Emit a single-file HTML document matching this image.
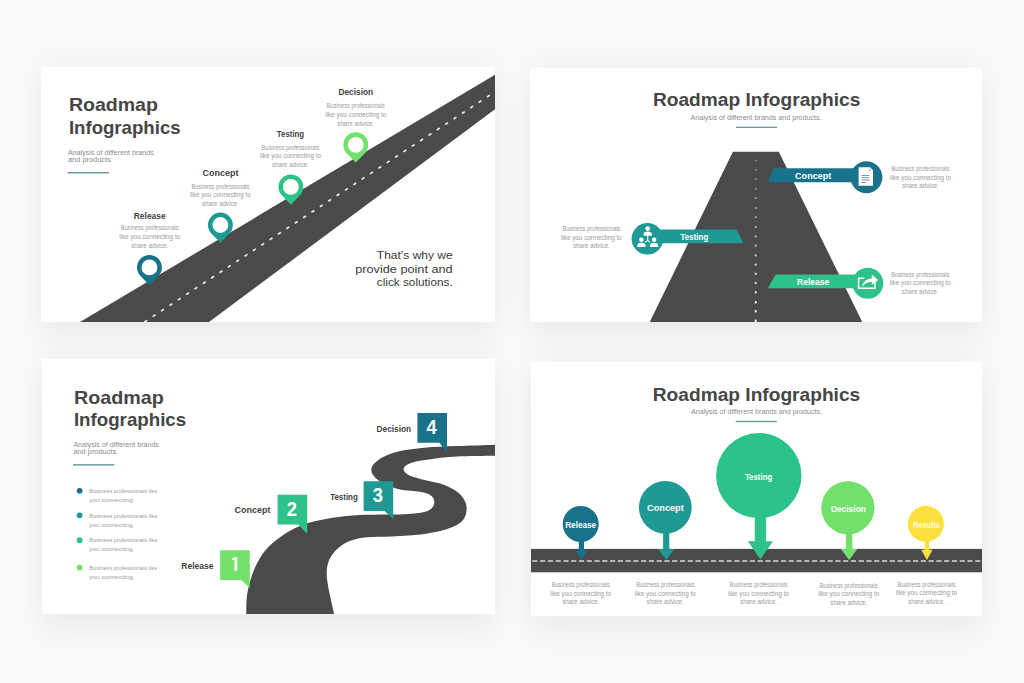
<!DOCTYPE html><html><head><meta charset="utf-8"><style>html,body{margin:0;padding:0;background:#f9f9f9;width:1024px;height:683px;overflow:hidden}svg{display:block}text{font-family:"Liberation Sans",sans-serif}</style></head><body>
<svg width="1024" height="683" viewBox="0 0 1024 683">
<defs><filter id="sh" x="-30%" y="-40%" width="160%" height="180%"><feGaussianBlur stdDeviation="14 20"/></filter><clipPath id="c1"><rect x="41" y="67" width="454" height="255"/></clipPath><clipPath id="c2"><rect x="530" y="67.5" width="452" height="254.5"/></clipPath><clipPath id="c3"><rect x="42" y="359" width="453" height="255"/></clipPath><clipPath id="c4"><rect x="531" y="361.7" width="451" height="254.6"/></clipPath></defs>
<rect width="1024" height="683" fill="#f9f9f9"/>
<rect x="41" y="75" width="454" height="255" fill="#000" opacity="0.075" filter="url(#sh)"/>
<rect x="530" y="75.5" width="452" height="254.5" fill="#000" opacity="0.075" filter="url(#sh)"/>
<rect x="42" y="367" width="453" height="255" fill="#000" opacity="0.075" filter="url(#sh)"/>
<rect x="531" y="369.7" width="451" height="254.6" fill="#000" opacity="0.075" filter="url(#sh)"/>
<rect x="41" y="67" width="454" height="255" fill="#fff"/>
<rect x="530" y="67.5" width="452" height="254.5" fill="#fff"/>
<rect x="42" y="359" width="453" height="255" fill="#fff"/>
<rect x="531" y="361.7" width="451" height="254.6" fill="#fff"/>
<g clip-path="url(#c1)">
<text x="68.9" y="111.3" font-size="19" font-weight="bold" fill="#464646" text-anchor="start" textLength="89" lengthAdjust="spacingAndGlyphs">Roadmap</text>
<text x="68.9" y="133.8" font-size="19" font-weight="bold" fill="#464646" text-anchor="start" textLength="111.7" lengthAdjust="spacingAndGlyphs">Infographics</text>
<text x="68" y="154.5" font-size="6.6" font-weight="normal" fill="#8c8c8c" text-anchor="start" textLength="85.8" lengthAdjust="spacingAndGlyphs">Analysis of different brands</text>
<text x="68" y="162.3" font-size="6.6" font-weight="normal" fill="#8c8c8c" text-anchor="start" textLength="44.8" lengthAdjust="spacingAndGlyphs">and products.</text>
<rect x="67.5" y="172" width="41.5" height="1.5" fill="#6b9ba3"/>
<polygon points="80,322 209,322 495.5,109 495.5,74.5" fill="#4a4a4a"/>
<rect x="144.05" y="320.33" width="3.4" height="1.7" fill="#ececec" transform="rotate(-33.30 145.75 321.18)"/>
<rect x="152.41" y="314.84" width="3.4" height="1.7" fill="#ececec" transform="rotate(-33.30 154.11 315.69)"/>
<rect x="160.77" y="309.35" width="3.4" height="1.7" fill="#ececec" transform="rotate(-33.30 162.47 310.20)"/>
<rect x="169.13" y="303.86" width="3.4" height="1.7" fill="#ececec" transform="rotate(-33.30 170.83 304.71)"/>
<rect x="177.49" y="298.36" width="3.4" height="1.7" fill="#ececec" transform="rotate(-33.30 179.19 299.21)"/>
<rect x="185.84" y="292.87" width="3.4" height="1.7" fill="#ececec" transform="rotate(-33.30 187.54 293.72)"/>
<rect x="194.20" y="287.38" width="3.4" height="1.7" fill="#ececec" transform="rotate(-33.30 195.90 288.23)"/>
<rect x="202.56" y="281.89" width="3.4" height="1.7" fill="#ececec" transform="rotate(-33.30 204.26 282.74)"/>
<rect x="210.92" y="276.40" width="3.4" height="1.7" fill="#ececec" transform="rotate(-33.30 212.62 277.25)"/>
<rect x="219.27" y="270.91" width="3.4" height="1.7" fill="#ececec" transform="rotate(-33.30 220.97 271.76)"/>
<rect x="227.63" y="265.42" width="3.4" height="1.7" fill="#ececec" transform="rotate(-33.30 229.33 266.27)"/>
<rect x="235.99" y="259.93" width="3.4" height="1.7" fill="#ececec" transform="rotate(-33.30 237.69 260.78)"/>
<rect x="244.35" y="254.44" width="3.4" height="1.7" fill="#ececec" transform="rotate(-33.30 246.05 255.29)"/>
<rect x="252.71" y="248.95" width="3.4" height="1.7" fill="#ececec" transform="rotate(-33.30 254.41 249.80)"/>
<rect x="261.06" y="243.46" width="3.4" height="1.7" fill="#ececec" transform="rotate(-33.30 262.76 244.31)"/>
<rect x="269.42" y="237.97" width="3.4" height="1.7" fill="#ececec" transform="rotate(-33.30 271.12 238.82)"/>
<rect x="277.78" y="232.48" width="3.4" height="1.7" fill="#ececec" transform="rotate(-33.30 279.48 233.33)"/>
<rect x="286.14" y="226.99" width="3.4" height="1.7" fill="#ececec" transform="rotate(-33.30 287.84 227.84)"/>
<rect x="294.50" y="221.50" width="3.4" height="1.7" fill="#ececec" transform="rotate(-33.30 296.20 222.35)"/>
<rect x="302.85" y="216.01" width="3.4" height="1.7" fill="#ececec" transform="rotate(-33.30 304.55 216.86)"/>
<rect x="311.21" y="210.52" width="3.4" height="1.7" fill="#ececec" transform="rotate(-33.30 312.91 211.37)"/>
<rect x="319.57" y="205.03" width="3.4" height="1.7" fill="#ececec" transform="rotate(-33.30 321.27 205.88)"/>
<rect x="327.93" y="199.54" width="3.4" height="1.7" fill="#ececec" transform="rotate(-33.30 329.63 200.39)"/>
<rect x="336.29" y="194.05" width="3.4" height="1.7" fill="#ececec" transform="rotate(-33.30 337.99 194.90)"/>
<rect x="344.64" y="188.56" width="3.4" height="1.7" fill="#ececec" transform="rotate(-33.30 346.34 189.41)"/>
<rect x="353.00" y="183.06" width="3.4" height="1.7" fill="#ececec" transform="rotate(-33.30 354.70 183.91)"/>
<rect x="361.36" y="177.57" width="3.4" height="1.7" fill="#ececec" transform="rotate(-33.30 363.06 178.42)"/>
<rect x="369.72" y="172.08" width="3.4" height="1.7" fill="#ececec" transform="rotate(-33.30 371.42 172.93)"/>
<rect x="378.08" y="166.59" width="3.4" height="1.7" fill="#ececec" transform="rotate(-33.30 379.78 167.44)"/>
<rect x="386.43" y="161.10" width="3.4" height="1.7" fill="#ececec" transform="rotate(-33.30 388.13 161.95)"/>
<rect x="394.79" y="155.61" width="3.4" height="1.7" fill="#ececec" transform="rotate(-33.30 396.49 156.46)"/>
<rect x="403.15" y="150.12" width="3.4" height="1.7" fill="#ececec" transform="rotate(-33.30 404.85 150.97)"/>
<rect x="411.51" y="144.63" width="3.4" height="1.7" fill="#ececec" transform="rotate(-33.30 413.21 145.48)"/>
<rect x="419.86" y="139.14" width="3.4" height="1.7" fill="#ececec" transform="rotate(-33.30 421.56 139.99)"/>
<rect x="428.22" y="133.65" width="3.4" height="1.7" fill="#ececec" transform="rotate(-33.30 429.92 134.50)"/>
<rect x="436.58" y="128.16" width="3.4" height="1.7" fill="#ececec" transform="rotate(-33.30 438.28 129.01)"/>
<rect x="444.94" y="122.67" width="3.4" height="1.7" fill="#ececec" transform="rotate(-33.30 446.64 123.52)"/>
<rect x="453.30" y="117.18" width="3.4" height="1.7" fill="#ececec" transform="rotate(-33.30 455.00 118.03)"/>
<rect x="461.65" y="111.69" width="3.4" height="1.7" fill="#ececec" transform="rotate(-33.30 463.35 112.54)"/>
<rect x="470.01" y="106.20" width="3.4" height="1.7" fill="#ececec" transform="rotate(-33.30 471.71 107.05)"/>
<rect x="478.37" y="100.71" width="3.4" height="1.7" fill="#ececec" transform="rotate(-33.30 480.07 101.56)"/>
<rect x="486.73" y="95.22" width="3.4" height="1.7" fill="#ececec" transform="rotate(-33.30 488.43 96.07)"/>
</g>
<path d="M149.45,285.2 L140.55,276.11 A12.45,12.45 0 1 1 158.35,276.11 Z" fill="#18738a"/>
<circle cx="149.45" cy="267.4" r="7.9" fill="#fff"/>
<text x="149.7" y="218.5" font-size="8.8" font-weight="bold" fill="#3f3f3f" text-anchor="middle" textLength="31.8" lengthAdjust="spacingAndGlyphs">Release</text>
<text x="149.7" y="230.3" font-size="6.4" font-weight="normal" fill="#9b9b9b" text-anchor="middle" textLength="58" lengthAdjust="spacingAndGlyphs">Business professionals</text>
<text x="149.7" y="238.9" font-size="6.4" font-weight="normal" fill="#9b9b9b" text-anchor="middle" textLength="61" lengthAdjust="spacingAndGlyphs">like you connecting to</text>
<text x="149.7" y="247.5" font-size="6.4" font-weight="normal" fill="#9b9b9b" text-anchor="middle" textLength="37" lengthAdjust="spacingAndGlyphs">share advice.</text>
<path d="M220.4,242.8 L211.50,233.71 A12.45,12.45 0 1 1 229.30,233.71 Z" fill="#1e9994"/>
<circle cx="220.4" cy="225.0" r="7.9" fill="#fff"/>
<text x="220.4" y="176.0" font-size="8.8" font-weight="bold" fill="#3f3f3f" text-anchor="middle" textLength="36" lengthAdjust="spacingAndGlyphs">Concept</text>
<text x="220.4" y="188.7" font-size="6.4" font-weight="normal" fill="#9b9b9b" text-anchor="middle" textLength="58" lengthAdjust="spacingAndGlyphs">Business professionals</text>
<text x="220.4" y="197.3" font-size="6.4" font-weight="normal" fill="#9b9b9b" text-anchor="middle" textLength="61" lengthAdjust="spacingAndGlyphs">like you connecting to</text>
<text x="220.4" y="205.9" font-size="6.4" font-weight="normal" fill="#9b9b9b" text-anchor="middle" textLength="37" lengthAdjust="spacingAndGlyphs">share advice.</text>
<path d="M290.85,204.70000000000002 L281.95,195.61 A12.45,12.45 0 1 1 299.75,195.61 Z" fill="#2cc289"/>
<circle cx="290.85" cy="186.9" r="7.9" fill="#fff"/>
<text x="290.5" y="137.4" font-size="8.8" font-weight="bold" fill="#3f3f3f" text-anchor="middle" textLength="27.3" lengthAdjust="spacingAndGlyphs">Testing</text>
<text x="290.5" y="149.7" font-size="6.4" font-weight="normal" fill="#9b9b9b" text-anchor="middle" textLength="58" lengthAdjust="spacingAndGlyphs">Business professionals</text>
<text x="290.5" y="158.3" font-size="6.4" font-weight="normal" fill="#9b9b9b" text-anchor="middle" textLength="61" lengthAdjust="spacingAndGlyphs">like you connecting to</text>
<text x="290.5" y="166.9" font-size="6.4" font-weight="normal" fill="#9b9b9b" text-anchor="middle" textLength="37" lengthAdjust="spacingAndGlyphs">share advice.</text>
<path d="M355.8,162.60000000000002 L346.90,153.51 A12.45,12.45 0 1 1 364.70,153.51 Z" fill="#74e06c"/>
<circle cx="355.8" cy="144.8" r="7.9" fill="#fff"/>
<text x="355.8" y="95.0" font-size="8.8" font-weight="bold" fill="#3f3f3f" text-anchor="middle" textLength="34.7" lengthAdjust="spacingAndGlyphs">Decision</text>
<text x="355.8" y="108.3" font-size="6.4" font-weight="normal" fill="#9b9b9b" text-anchor="middle" textLength="58" lengthAdjust="spacingAndGlyphs">Business professionals</text>
<text x="355.8" y="116.9" font-size="6.4" font-weight="normal" fill="#9b9b9b" text-anchor="middle" textLength="61" lengthAdjust="spacingAndGlyphs">like you connecting to</text>
<text x="355.8" y="125.5" font-size="6.4" font-weight="normal" fill="#9b9b9b" text-anchor="middle" textLength="37" lengthAdjust="spacingAndGlyphs">share advice.</text>
<text x="452.7" y="259.3" font-size="11.5" font-weight="normal" fill="#3a3a3a" text-anchor="end" textLength="75.9" lengthAdjust="spacingAndGlyphs">That&#8217;s why we</text>
<text x="452.7" y="272.8" font-size="11.5" font-weight="normal" fill="#3a3a3a" text-anchor="end" textLength="97.5" lengthAdjust="spacingAndGlyphs">provide point and</text>
<text x="452.7" y="286.0" font-size="11.5" font-weight="normal" fill="#3a3a3a" text-anchor="end" textLength="75.9" lengthAdjust="spacingAndGlyphs">click solutions.</text>
<g clip-path="url(#c2)">
<text x="652.9" y="106.2" font-size="18" font-weight="bold" fill="#464646" text-anchor="start" textLength="207.4" lengthAdjust="spacingAndGlyphs">Roadmap Infographics</text>
<text x="756" y="119.6" font-size="6.4" font-weight="normal" fill="#8c8c8c" text-anchor="middle" textLength="131" lengthAdjust="spacingAndGlyphs">Analysis of different brands and products.</text>
<rect x="736" y="126.6" width="41" height="1.4" fill="#6b9ba3"/>
<polygon points="732.9,151.7 778.8,151.7 862.5,322.5 649.5,322.5" fill="#4a4a4a"/>
<rect x="754.80" y="159.90" width="1.8" height="1.20" fill="#fff" opacity="0.45"/>
<rect x="754.80" y="169.16" width="1.8" height="1.27" fill="#fff" opacity="0.48"/>
<rect x="754.80" y="178.33" width="1.8" height="1.34" fill="#fff" opacity="0.51"/>
<rect x="754.80" y="188.29" width="1.8" height="1.41" fill="#fff" opacity="0.55"/>
<rect x="754.80" y="197.46" width="1.8" height="1.48" fill="#fff" opacity="0.58"/>
<rect x="754.80" y="207.22" width="1.8" height="1.55" fill="#fff" opacity="0.61"/>
<rect x="754.80" y="216.39" width="1.8" height="1.62" fill="#fff" opacity="0.64"/>
<rect x="754.80" y="226.15" width="1.8" height="1.69" fill="#fff" opacity="0.68"/>
<rect x="754.80" y="235.52" width="1.8" height="1.76" fill="#fff" opacity="0.71"/>
<rect x="754.80" y="244.78" width="1.8" height="1.84" fill="#fff" opacity="0.74"/>
<rect x="754.80" y="254.45" width="1.8" height="1.91" fill="#fff" opacity="0.77"/>
<rect x="754.80" y="263.61" width="1.8" height="1.98" fill="#fff" opacity="0.81"/>
<rect x="754.80" y="272.78" width="1.8" height="2.05" fill="#fff" opacity="0.84"/>
<rect x="754.80" y="281.94" width="1.8" height="2.12" fill="#fff" opacity="0.87"/>
<rect x="754.80" y="291.21" width="1.8" height="2.19" fill="#fff" opacity="0.90"/>
<rect x="754.80" y="301.17" width="1.8" height="2.26" fill="#fff" opacity="0.94"/>
<rect x="754.80" y="310.14" width="1.8" height="2.33" fill="#fff" opacity="0.97"/>
<rect x="754.80" y="319.60" width="1.8" height="2.40" fill="#fff" opacity="1.00"/>
</g>
<polygon points="773.7,168.2 866,168.2 866,182.2 767.8,182.2" fill="#18738a"/>
<circle cx="866.4" cy="177.3" r="16" fill="#18738a"/>
<text x="813.2" y="178.9" font-size="9.4" font-weight="bold" fill="#fff" text-anchor="middle" textLength="36.3" lengthAdjust="spacingAndGlyphs">Concept</text>
<polygon points="648,229.5 736.5,229.5 743.4,243.2 648,243.2" fill="#1e9994"/>
<circle cx="647.4" cy="238.8" r="15.8" fill="#1e9994"/>
<text x="694.4" y="240.3" font-size="9.4" font-weight="bold" fill="#fff" text-anchor="middle" textLength="27.7" lengthAdjust="spacingAndGlyphs">Testing</text>
<polygon points="775.6,274.6 867,274.6 867,288.3 767.8,288.3" fill="#2cc289"/>
<circle cx="867.8" cy="283.2" r="15.5" fill="#2cc289"/>
<text x="813.2" y="284.7" font-size="9.4" font-weight="bold" fill="#fff" text-anchor="middle" textLength="32.3" lengthAdjust="spacingAndGlyphs">Release</text>
<text x="920.5" y="171.2" font-size="6.4" font-weight="normal" fill="#9b9b9b" text-anchor="middle" textLength="58" lengthAdjust="spacingAndGlyphs">Business professionals</text>
<text x="920.5" y="179.5" font-size="6.4" font-weight="normal" fill="#9b9b9b" text-anchor="middle" textLength="61" lengthAdjust="spacingAndGlyphs">like you connecting to</text>
<text x="920.5" y="187.8" font-size="6.4" font-weight="normal" fill="#9b9b9b" text-anchor="middle" textLength="37" lengthAdjust="spacingAndGlyphs">share advice.</text>
<text x="591.4" y="231.2" font-size="6.4" font-weight="normal" fill="#9b9b9b" text-anchor="middle" textLength="58" lengthAdjust="spacingAndGlyphs">Business professionals</text>
<text x="591.4" y="239.7" font-size="6.4" font-weight="normal" fill="#9b9b9b" text-anchor="middle" textLength="61" lengthAdjust="spacingAndGlyphs">like you connecting to</text>
<text x="591.4" y="248.2" font-size="6.4" font-weight="normal" fill="#9b9b9b" text-anchor="middle" textLength="37" lengthAdjust="spacingAndGlyphs">share advice.</text>
<text x="920.3" y="276.8" font-size="6.4" font-weight="normal" fill="#9b9b9b" text-anchor="middle" textLength="58" lengthAdjust="spacingAndGlyphs">Business professionals</text>
<text x="920.3" y="285.3" font-size="6.4" font-weight="normal" fill="#9b9b9b" text-anchor="middle" textLength="61" lengthAdjust="spacingAndGlyphs">like you connecting to</text>
<text x="920.3" y="293.8" font-size="6.4" font-weight="normal" fill="#9b9b9b" text-anchor="middle" textLength="37" lengthAdjust="spacingAndGlyphs">share advice.</text>
<path d="M858.6,167.3 H870 L873,170.3 V185.8 H858.6 Z" fill="#fff"/>
<circle cx="869.8" cy="170.2" r="0.7" fill="#5a7f8a"/>
<rect x="861.6" y="175.0" width="7.8" height="0.9" fill="#6d8f99"/>
<rect x="861.6" y="177.3" width="7.8" height="0.9" fill="#6d8f99"/>
<rect x="861.6" y="179.5" width="7.8" height="0.9" fill="#6d8f99"/>
<rect x="861.6" y="182.0" width="4.5" height="0.9" fill="#6d8f99"/>
<g fill="#fff"><circle cx="647.7" cy="228.6" r="2.35"/><path d="M643.5,235.8 v-1.3 a4.2,3 0 0 1 8.4,0 v1.3 z"/><circle cx="641.4" cy="239.8" r="2.3"/><path d="M637.3,247 v-1.3 a4.1,3 0 0 1 8.2,0 v1.3 z"/><circle cx="654.1" cy="239.8" r="2.3"/><path d="M650,247 v-1.3 a4.1,3 0 0 1 8.2,0 v1.3 z"/></g>
<path d="M647.7,235.5 V240.3 L645.2,242.4 M647.7,240.3 L650.2,242.4" stroke="#fff" stroke-width="1.1" fill="none"/>
<path d="M875,282.3 V288.2 H858.6 V278.3 H864.2" stroke="#fff" stroke-width="1.5" fill="none"/>
<path d="M861.8,287 C862.8,281.6 866.5,278.9 871.8,278.4 V274.8 L878.2,279.9 L871.8,285 V281.7 C867.5,281.9 864.5,283.5 861.8,287 Z" fill="#fff"/>
<g clip-path="url(#c3)">
<text x="73.9" y="403.7" font-size="19" font-weight="bold" fill="#464646" text-anchor="start" textLength="89.9" lengthAdjust="spacingAndGlyphs">Roadmap</text>
<text x="73.9" y="426.2" font-size="19" font-weight="bold" fill="#464646" text-anchor="start" textLength="112.3" lengthAdjust="spacingAndGlyphs">Infographics</text>
<text x="73.4" y="446.6" font-size="6.6" font-weight="normal" fill="#8c8c8c" text-anchor="start" textLength="85.5" lengthAdjust="spacingAndGlyphs">Analysis of different brands</text>
<text x="73.4" y="454.4" font-size="6.6" font-weight="normal" fill="#8c8c8c" text-anchor="start" textLength="44.8" lengthAdjust="spacingAndGlyphs">and products.</text>
<rect x="73" y="464.1" width="41.4" height="1.5" fill="#6b9ba3"/>
<circle cx="79.6" cy="490.8" r="2.9" fill="#18738a"/>
<text x="89.3" y="493.0" font-size="6.2" font-weight="normal" fill="#9b9b9b" text-anchor="start" textLength="68" lengthAdjust="spacingAndGlyphs">Business professionals like</text>
<text x="89.3" y="502.0" font-size="6.2" font-weight="normal" fill="#9b9b9b" text-anchor="start" textLength="45" lengthAdjust="spacingAndGlyphs">you connecting.</text>
<circle cx="79.6" cy="515.3" r="2.9" fill="#1e9994"/>
<text x="89.3" y="517.5" font-size="6.2" font-weight="normal" fill="#9b9b9b" text-anchor="start" textLength="68" lengthAdjust="spacingAndGlyphs">Business professionals like</text>
<text x="89.3" y="526.5" font-size="6.2" font-weight="normal" fill="#9b9b9b" text-anchor="start" textLength="45" lengthAdjust="spacingAndGlyphs">you connecting.</text>
<circle cx="79.6" cy="540.2" r="2.9" fill="#2cc289"/>
<text x="89.3" y="542.4" font-size="6.2" font-weight="normal" fill="#9b9b9b" text-anchor="start" textLength="68" lengthAdjust="spacingAndGlyphs">Business professionals like</text>
<text x="89.3" y="551.4" font-size="6.2" font-weight="normal" fill="#9b9b9b" text-anchor="start" textLength="45" lengthAdjust="spacingAndGlyphs">you connecting.</text>
<circle cx="79.6" cy="567.6" r="2.9" fill="#74e06c"/>
<text x="89.3" y="569.8" font-size="6.2" font-weight="normal" fill="#9b9b9b" text-anchor="start" textLength="68" lengthAdjust="spacingAndGlyphs">Business professionals like</text>
<text x="89.3" y="578.8" font-size="6.2" font-weight="normal" fill="#9b9b9b" text-anchor="start" textLength="45" lengthAdjust="spacingAndGlyphs">you connecting.</text>
<path d="M246.20,616.00 C246.28,613.07 246.18,603.68 246.70,598.40 C247.22,593.12 247.98,589.28 249.30,584.30 C250.62,579.32 252.25,573.77 254.60,568.50 C256.95,563.23 259.88,557.38 263.40,552.70 C266.92,548.02 271.02,544.20 275.70,540.40 C280.38,536.60 285.95,532.83 291.50,529.90 C297.05,526.97 302.85,524.72 309.00,522.80 C315.15,520.88 321.07,519.60 328.40,518.40 C335.73,517.20 344.40,516.23 353.00,515.60 C361.60,514.97 371.33,514.83 380.00,514.60 C388.67,514.37 398.00,514.53 405.00,514.20 C412.00,513.87 417.58,513.55 422.00,512.60 C426.42,511.65 429.45,510.35 431.50,508.50 C433.55,506.65 434.47,503.72 434.30,501.50 C434.13,499.28 432.88,496.82 430.50,495.20 C428.12,493.58 425.08,492.75 420.00,491.80 C414.92,490.85 405.67,490.72 400.00,489.50 C394.33,488.28 390.08,486.42 386.00,484.50 C381.92,482.58 377.95,480.37 375.50,478.00 C373.05,475.63 371.47,472.75 371.30,470.30 C371.13,467.85 372.35,465.62 374.50,463.30 C376.65,460.98 379.90,458.45 384.20,456.40 C388.50,454.35 393.60,452.45 400.30,451.00 C407.00,449.55 415.00,448.52 424.40,447.70 C433.80,446.88 444.60,446.62 456.70,446.10 C468.80,445.58 490.28,444.85 497.00,444.60 L497,455.8 L497.00,455.80 C490.28,455.93 467.45,456.07 456.70,456.60 C445.95,457.13 439.75,458.07 432.50,459.00 C425.25,459.93 417.78,461.00 413.20,462.20 C408.62,463.40 406.53,464.77 405.00,466.20 C403.47,467.63 403.17,469.20 404.00,470.80 C404.83,472.40 406.60,474.27 410.00,475.80 C413.40,477.33 418.77,478.50 424.40,480.00 C430.03,481.50 438.15,482.67 443.80,484.80 C449.45,486.93 454.68,489.85 458.30,492.80 C461.92,495.75 464.17,499.27 465.50,502.50 C466.83,505.73 466.97,508.98 466.30,512.20 C465.63,515.42 464.72,518.98 461.50,521.80 C458.28,524.62 453.18,527.08 447.00,529.10 C440.82,531.12 433.57,532.68 424.40,533.90 C415.23,535.12 401.57,535.85 392.00,536.40 C382.43,536.95 373.80,536.50 367.00,537.20 C360.20,537.90 355.88,538.90 351.20,540.60 C346.52,542.30 342.42,544.50 338.90,547.40 C335.38,550.30 332.12,554.18 330.10,558.00 C328.08,561.82 327.18,565.92 326.80,570.30 C326.42,574.68 327.10,579.33 327.80,584.30 C328.50,589.27 329.88,594.82 331.00,600.10 C332.12,605.38 333.92,613.35 334.50,616.00 Z" fill="#4a4a4a"/>
</g>
<path d="M220.2,550.2 H249.79999999999998 V588.1000000000001 L240.99999999999997,579.9000000000001 H220.2 Z" fill="#74e06c"/>
<path d="M234.40,557.20 H237.30 V570.80 H234.40 V560.00 H231.80 L232.60,557.80 Z" fill="#f2fff0"/>
<path d="M277.6,494.8 H307.20000000000005 V534.1 L298.40000000000003,524.5 H277.6 Z" fill="#2cc289"/>
<text x="291.9" y="516.0" font-size="20" font-weight="bold" fill="#fff" text-anchor="middle" textLength="10.2" lengthAdjust="spacingAndGlyphs">2</text>
<path d="M363.6,481.2 H393.20000000000005 V519.1 L384.40000000000003,510.9 H363.6 Z" fill="#1e9994"/>
<text x="377.9" y="502.4" font-size="20" font-weight="bold" fill="#fff" text-anchor="middle" textLength="10.2" lengthAdjust="spacingAndGlyphs">3</text>
<path d="M417.4,413.1 H447.0 V452.8 L439.5,442.8 H417.4 Z" fill="#18738a"/>
<text x="431.7" y="434.3" font-size="20" font-weight="bold" fill="#fff" text-anchor="middle" textLength="10.2" lengthAdjust="spacingAndGlyphs">4</text>
<text x="197.4" y="569" font-size="8.9" font-weight="bold" fill="#3f3f3f" text-anchor="middle" textLength="32.2" lengthAdjust="spacingAndGlyphs">Release</text>
<text x="252.5" y="512.6" font-size="8.9" font-weight="bold" fill="#3f3f3f" text-anchor="middle" textLength="36" lengthAdjust="spacingAndGlyphs">Concept</text>
<text x="344" y="499.7" font-size="8.9" font-weight="bold" fill="#3f3f3f" text-anchor="middle" textLength="27.7" lengthAdjust="spacingAndGlyphs">Testing</text>
<text x="393.8" y="432.4" font-size="8.9" font-weight="bold" fill="#3f3f3f" text-anchor="middle" textLength="34.5" lengthAdjust="spacingAndGlyphs">Decision</text>
<g clip-path="url(#c4)">
<text x="652.8" y="400.8" font-size="18" font-weight="bold" fill="#464646" text-anchor="start" textLength="207.4" lengthAdjust="spacingAndGlyphs">Roadmap Infographics</text>
<text x="756.5" y="414.2" font-size="6.4" font-weight="normal" fill="#8c8c8c" text-anchor="middle" textLength="131" lengthAdjust="spacingAndGlyphs">Analysis of different brands and products.</text>
<rect x="735.7" y="420.8" width="41" height="1.4" fill="#6b9ba3"/>
<rect x="531" y="548.9" width="451.4" height="23.4" fill="#4a4a4a"/>
<line x1="524.53" y1="561" x2="982.4" y2="561" stroke="#d8d8d8" stroke-width="1.3" stroke-dasharray="5.2 2.57"/>
</g>
<rect x="578.80" y="524.00" width="5.2" height="27.50" fill="#18738a"/>
<polygon points="575.65,551 587.15,551 581.4,559.6" fill="#18738a"/>
<circle cx="580.7" cy="524" r="18" fill="#18738a"/>
<rect x="663.10" y="507.30" width="6.2" height="42.40" fill="#1e9994"/>
<polygon points="658.20,549.2 674.20,549.2 666.2,559.8" fill="#1e9994"/>
<circle cx="665.3" cy="507.3" r="26.4" fill="#1e9994"/>
<rect x="754.75" y="475.60" width="11.3" height="66.10" fill="#2cc289"/>
<polygon points="747.80,541.2 773.00,541.2 760.4,559.3" fill="#2cc289"/>
<circle cx="758.8" cy="475.6" r="42.7" fill="#2cc289"/>
<rect x="845.90" y="507.80" width="6.4" height="41.80" fill="#74e06c"/>
<polygon points="840.85,549.1 857.35,549.1 849.1,559.9" fill="#74e06c"/>
<circle cx="847.9" cy="507.8" r="26.6" fill="#74e06c"/>
<rect x="924.65" y="523.80" width="4.5" height="26.50" fill="#fce03e"/>
<polygon points="921.20,549.8 932.60,549.8 926.9,559.9" fill="#fce03e"/>
<circle cx="925.8" cy="523.8" r="18" fill="#fce03e"/>
<text x="580.7" y="527.8" font-size="8.4" font-weight="bold" fill="#fff" text-anchor="middle" textLength="31" lengthAdjust="spacingAndGlyphs">Release</text>
<text x="665.4" y="511.4" font-size="9.2" font-weight="bold" fill="#fff" text-anchor="middle" textLength="36.6" lengthAdjust="spacingAndGlyphs">Concept</text>
<text x="758.6" y="479.6" font-size="8.2" font-weight="bold" fill="#fff" text-anchor="middle" textLength="27.4" lengthAdjust="spacingAndGlyphs">Testing</text>
<text x="848.4" y="512.2" font-size="8.6" font-weight="bold" fill="#fff" text-anchor="middle" textLength="35" lengthAdjust="spacingAndGlyphs">Decision</text>
<text x="926.6" y="527.8" font-size="8.2" font-weight="bold" fill="#fffbe0" text-anchor="middle" textLength="26.7" lengthAdjust="spacingAndGlyphs">Results</text>
<text x="580.7" y="586.8" font-size="6.4" font-weight="normal" fill="#9b9b9b" text-anchor="middle" textLength="58" lengthAdjust="spacingAndGlyphs">Business professionals</text>
<text x="580.7" y="595.5" font-size="6.4" font-weight="normal" fill="#9b9b9b" text-anchor="middle" textLength="61" lengthAdjust="spacingAndGlyphs">like you connecting to</text>
<text x="580.7" y="604.2" font-size="6.4" font-weight="normal" fill="#9b9b9b" text-anchor="middle" textLength="37" lengthAdjust="spacingAndGlyphs">share advice.</text>
<text x="665.3" y="586.8" font-size="6.4" font-weight="normal" fill="#9b9b9b" text-anchor="middle" textLength="58" lengthAdjust="spacingAndGlyphs">Business professionals</text>
<text x="665.3" y="595.5" font-size="6.4" font-weight="normal" fill="#9b9b9b" text-anchor="middle" textLength="61" lengthAdjust="spacingAndGlyphs">like you connecting to</text>
<text x="665.3" y="604.2" font-size="6.4" font-weight="normal" fill="#9b9b9b" text-anchor="middle" textLength="37" lengthAdjust="spacingAndGlyphs">share advice.</text>
<text x="758.6" y="586.8" font-size="6.4" font-weight="normal" fill="#9b9b9b" text-anchor="middle" textLength="58" lengthAdjust="spacingAndGlyphs">Business professionals</text>
<text x="758.6" y="595.5" font-size="6.4" font-weight="normal" fill="#9b9b9b" text-anchor="middle" textLength="61" lengthAdjust="spacingAndGlyphs">like you connecting to</text>
<text x="758.6" y="604.2" font-size="6.4" font-weight="normal" fill="#9b9b9b" text-anchor="middle" textLength="37" lengthAdjust="spacingAndGlyphs">share advice.</text>
<text x="848.8" y="587.6" font-size="6.4" font-weight="normal" fill="#9b9b9b" text-anchor="middle" textLength="58" lengthAdjust="spacingAndGlyphs">Business professionals</text>
<text x="848.8" y="596.3" font-size="6.4" font-weight="normal" fill="#9b9b9b" text-anchor="middle" textLength="61" lengthAdjust="spacingAndGlyphs">like you connecting to</text>
<text x="848.8" y="605.0" font-size="6.4" font-weight="normal" fill="#9b9b9b" text-anchor="middle" textLength="37" lengthAdjust="spacingAndGlyphs">share advice.</text>
<text x="926.6" y="586.7" font-size="6.4" font-weight="normal" fill="#9b9b9b" text-anchor="middle" textLength="58" lengthAdjust="spacingAndGlyphs">Business professionals</text>
<text x="926.6" y="595.4" font-size="6.4" font-weight="normal" fill="#9b9b9b" text-anchor="middle" textLength="61" lengthAdjust="spacingAndGlyphs">like you connecting to</text>
<text x="926.6" y="604.1" font-size="6.4" font-weight="normal" fill="#9b9b9b" text-anchor="middle" textLength="37" lengthAdjust="spacingAndGlyphs">share advice.</text>
</svg></body></html>
